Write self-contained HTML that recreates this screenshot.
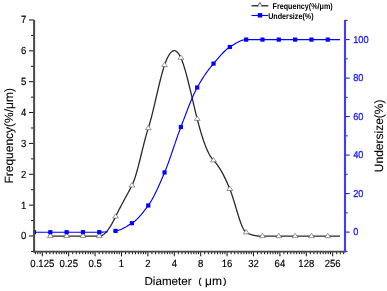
<!DOCTYPE html>
<html><head><meta charset="utf-8"><style>
html,body{margin:0;padding:0;background:#fff;width:387px;height:291px;overflow:hidden}
svg{display:block}
text{font-family:"Liberation Sans","Noto Sans CJK SC",sans-serif;text-rendering:geometricPrecision}
.tl{font-size:10.4px;fill:#000;stroke:#000;stroke-width:0.15px}
.tr{font-size:10px;fill:#1a1aff;stroke:#1a1aff;stroke-width:0.3px}
.tb{font-size:10.4px;fill:#000;stroke:#000;stroke-width:0.15px}
.tt{font-size:12px;fill:#000;stroke:#000;stroke-width:0.1px}
.tx{font-size:11.6px;fill:#000;stroke:#000;stroke-width:0.1px}
.lg{font-size:8.4px;fill:#000;font-weight:bold}
.pp{font-size:8.4px;stroke-width:0.35px}
</style></head><body>
<svg width="387" height="291" viewBox="0 0 387 291">
<defs><clipPath id="pa"><rect x="33.4" y="20.0" width="311.20000000000005" height="231.6"/></clipPath></defs>
<rect width="387" height="291" fill="#fff"/>
<g clip-path="url(#pa)">
<path d="M48.00,236.10 L48.50,236.10 L49.00,236.10 L49.50,236.10 L50.00,236.10 L50.50,236.10 L51.00,236.10 L51.50,236.10 L52.00,236.10 L52.50,236.10 L53.00,236.10 L53.50,236.10 L54.00,236.10 L54.50,236.10 L55.00,236.10 L55.50,236.10 L56.00,236.10 L56.50,236.10 L57.00,236.10 L57.50,236.10 L58.00,236.10 L58.50,236.10 L59.00,236.10 L59.50,236.10 L60.00,236.10 L60.50,236.10 L61.00,236.10 L61.50,236.10 L62.00,236.10 L62.50,236.10 L63.00,236.10 L63.50,236.10 L64.00,236.10 L64.50,236.10 L65.00,236.10 L65.50,236.10 L66.00,236.10 L66.50,236.10 L67.00,236.10 L67.50,236.10 L68.00,236.10 L68.50,236.10 L69.00,236.10 L69.50,236.10 L70.00,236.10 L70.50,236.10 L71.00,236.10 L71.50,236.10 L72.00,236.10 L72.50,236.10 L73.00,236.10 L73.50,236.10 L74.00,236.10 L74.50,236.10 L75.00,236.10 L75.50,236.10 L76.00,236.10 L76.50,236.10 L77.00,236.10 L77.50,236.10 L78.00,236.10 L78.50,236.10 L79.00,236.10 L79.50,236.10 L80.00,236.10 L80.50,236.10 L81.00,236.10 L81.50,236.10 L82.00,236.10 L82.50,236.10 L83.00,236.10 L83.50,236.10 L84.00,236.10 L84.50,236.10 L85.00,236.10 L85.50,236.10 L86.00,236.10 L86.50,236.10 L87.00,236.10 L87.50,236.10 L88.00,236.10 L88.50,236.10 L89.00,236.10 L89.50,236.10 L90.00,236.10 L90.50,236.10 L91.00,236.10 L91.50,236.10 L92.00,236.10 L92.50,236.10 L93.00,236.10 L93.50,236.10 L94.00,236.10 L94.50,236.10 L95.00,236.10 L95.50,236.10 L96.00,236.10 L96.50,236.10 L97.00,236.10 L97.50,236.10 L98.00,236.10 L98.50,236.10 L99.00,236.10 L99.50,236.10 L100.00,236.05 L100.50,235.96 L101.00,235.83 L101.50,235.66 L102.00,235.44 L102.50,235.18 L103.00,234.88 L103.50,234.54 L104.00,234.17 L104.50,233.75 L105.00,233.30 L105.50,232.81 L106.00,232.29 L106.50,231.73 L107.00,231.14 L107.50,230.51 L108.00,229.86 L108.50,229.17 L109.00,228.46 L109.50,227.71 L110.00,226.94 L110.50,226.13 L111.00,225.31 L111.50,224.45 L112.00,223.57 L112.50,222.67 L113.00,221.75 L113.50,220.80 L114.00,219.83 L114.50,218.84 L115.00,217.83 L115.50,216.81 L116.00,215.77 L116.50,214.75 L117.00,213.73 L117.50,212.73 L118.00,211.74 L118.50,210.75 L119.00,209.77 L119.50,208.80 L120.00,207.84 L120.50,206.89 L121.00,205.94 L121.50,204.99 L122.00,204.05 L122.50,203.12 L123.00,202.19 L123.50,201.26 L124.00,200.33 L124.50,199.41 L125.00,198.48 L125.50,197.56 L126.00,196.64 L126.50,195.72 L127.00,194.79 L127.50,193.86 L128.00,192.94 L128.50,192.00 L129.00,191.07 L129.50,190.13 L130.00,189.18 L130.50,188.23 L131.00,187.28 L131.50,186.31 L132.00,185.34 L132.50,184.30 L133.00,183.16 L133.50,181.91 L134.00,180.58 L134.50,179.16 L135.00,177.67 L135.50,176.09 L136.00,174.45 L136.50,172.75 L137.00,170.99 L137.50,169.18 L138.00,167.32 L138.50,165.42 L139.00,163.48 L139.50,161.52 L140.00,159.53 L140.50,157.53 L141.00,155.51 L141.50,153.48 L142.00,151.45 L142.50,149.43 L143.00,147.42 L143.50,145.42 L144.00,143.44 L144.50,141.49 L145.00,139.57 L145.50,137.69 L146.00,135.85 L146.50,134.06 L147.00,132.33 L147.50,130.66 L148.00,129.05 L148.50,127.49 L149.00,125.87 L149.50,124.19 L150.00,122.44 L150.50,120.62 L151.00,118.76 L151.50,116.84 L152.00,114.87 L152.50,112.87 L153.00,110.83 L153.50,108.76 L154.00,106.66 L154.50,104.54 L155.00,102.40 L155.50,100.26 L156.00,98.10 L156.50,95.95 L157.00,93.80 L157.50,91.65 L158.00,89.52 L158.50,87.41 L159.00,85.32 L159.50,83.26 L160.00,81.24 L160.50,79.25 L161.00,77.30 L161.50,75.40 L162.00,73.55 L162.50,71.76 L163.00,70.03 L163.50,68.37 L164.00,66.79 L164.50,65.28 L165.00,63.84 L165.50,62.48 L166.00,61.19 L166.50,59.97 L167.00,58.83 L167.50,57.76 L168.00,56.76 L168.50,55.84 L169.00,54.99 L169.50,54.22 L170.00,53.52 L170.50,52.90 L171.00,52.36 L171.50,51.89 L172.00,51.50 L172.50,51.19 L173.00,50.95 L173.50,50.80 L174.00,50.72 L174.50,50.72 L175.00,50.80 L175.50,50.97 L176.00,51.21 L176.50,51.53 L177.00,51.94 L177.50,52.43 L178.00,53.00 L178.50,53.65 L179.00,54.38 L179.50,55.20 L180.00,56.11 L180.50,57.09 L181.00,58.17 L181.50,59.33 L182.00,60.57 L182.50,61.90 L183.00,63.30 L183.50,64.78 L184.00,66.33 L184.50,67.94 L185.00,69.62 L185.50,71.35 L186.00,73.14 L186.50,74.97 L187.00,76.86 L187.50,78.78 L188.00,80.74 L188.50,82.74 L189.00,84.77 L189.50,86.82 L190.00,88.90 L190.50,90.99 L191.00,93.10 L191.50,95.22 L192.00,97.35 L192.50,99.48 L193.00,101.61 L193.50,103.73 L194.00,105.85 L194.50,107.95 L195.00,110.03 L195.50,112.09 L196.00,114.13 L196.50,116.14 L197.00,118.12 L197.50,120.06 L198.00,121.97 L198.50,123.84 L199.00,125.67 L199.50,127.47 L200.00,129.22 L200.50,130.94 L201.00,132.63 L201.50,134.27 L202.00,135.87 L202.50,137.43 L203.00,138.95 L203.50,140.43 L204.00,141.87 L204.50,143.26 L205.00,144.61 L205.50,145.92 L206.00,147.18 L206.50,148.40 L207.00,149.57 L207.50,150.69 L208.00,151.77 L208.50,152.80 L209.00,153.79 L209.50,154.72 L210.00,155.61 L210.50,156.44 L211.00,157.23 L211.50,157.96 L212.00,158.65 L212.50,159.28 L213.00,159.85 L213.50,160.38 L214.00,160.89 L214.50,161.42 L215.00,161.98 L215.50,162.56 L216.00,163.17 L216.50,163.81 L217.00,164.46 L217.50,165.14 L218.00,165.85 L218.50,166.58 L219.00,167.33 L219.50,168.10 L220.00,168.90 L220.50,169.72 L221.00,170.57 L221.50,171.43 L222.00,172.32 L222.50,173.23 L223.00,174.17 L223.50,175.12 L224.00,176.10 L224.50,177.09 L225.00,178.11 L225.50,179.15 L226.00,180.21 L226.50,181.29 L227.00,182.38 L227.50,183.50 L228.00,184.64 L228.50,185.80 L229.00,186.98 L229.50,188.18 L230.00,189.39 L230.50,190.67 L231.00,192.02 L231.50,193.44 L232.00,194.91 L232.50,196.43 L233.00,197.99 L233.50,199.59 L234.00,201.22 L234.50,202.87 L235.00,204.54 L235.50,206.22 L236.00,207.90 L236.50,209.58 L237.00,211.25 L237.50,212.91 L238.00,214.54 L238.50,216.15 L239.00,217.72 L239.50,219.25 L240.00,220.72 L240.50,222.15 L241.00,223.51 L241.50,224.81 L242.00,226.02 L242.50,227.16 L243.00,228.21 L243.50,229.17 L244.00,230.02 L244.50,230.77 L245.00,231.41 L245.50,231.92 L246.00,232.30 L246.50,232.59 L247.00,232.85 L247.50,233.10 L248.00,233.34 L248.50,233.56 L249.00,233.78 L249.50,233.98 L250.00,234.18 L250.50,234.36 L251.00,234.53 L251.50,234.69 L252.00,234.85 L252.50,234.99 L253.00,235.12 L253.50,235.25 L254.00,235.36 L254.50,235.47 L255.00,235.57 L255.50,235.66 L256.00,235.74 L256.50,235.81 L257.00,235.88 L257.50,235.94 L258.00,235.99 L258.50,236.04 L259.00,236.08 L259.50,236.11 L260.00,236.14 L260.50,236.16 L261.00,236.18 L261.50,236.19 L262.00,236.20 L262.50,236.20 L263.00,236.20 L263.50,236.20 L264.00,236.20 L264.50,236.20 L265.00,236.20 L265.50,236.20 L266.00,236.20 L266.50,236.20 L267.00,236.20 L267.50,236.20 L268.00,236.20 L268.50,236.20 L269.00,236.20 L269.50,236.20 L270.00,236.20 L270.50,236.20 L271.00,236.20 L271.50,236.20 L272.00,236.20 L272.50,236.20 L273.00,236.20 L273.50,236.20 L274.00,236.20 L274.50,236.20 L275.00,236.20 L275.50,236.20 L276.00,236.20 L276.50,236.20 L277.00,236.20 L277.50,236.20 L278.00,236.20 L278.50,236.20 L279.00,236.20 L279.50,236.20 L280.00,236.20 L280.50,236.20 L281.00,236.20 L281.50,236.20 L282.00,236.20 L282.50,236.20 L283.00,236.20 L283.50,236.20 L284.00,236.20 L284.50,236.20 L285.00,236.20 L285.50,236.20 L286.00,236.20 L286.50,236.20 L287.00,236.20 L287.50,236.20 L288.00,236.20 L288.50,236.20 L289.00,236.20 L289.50,236.20 L290.00,236.20 L290.50,236.20 L291.00,236.20 L291.50,236.20 L292.00,236.20 L292.50,236.20 L293.00,236.20 L293.50,236.20 L294.00,236.20 L294.50,236.20 L295.00,236.20 L295.50,236.20 L296.00,236.20 L296.50,236.20 L297.00,236.20 L297.50,236.20 L298.00,236.20 L298.50,236.20 L299.00,236.20 L299.50,236.20 L300.00,236.20 L300.50,236.20 L301.00,236.20 L301.50,236.20 L302.00,236.20 L302.50,236.20 L303.00,236.20 L303.50,236.20 L304.00,236.20 L304.50,236.20 L305.00,236.20 L305.50,236.20 L306.00,236.20 L306.50,236.20 L307.00,236.20 L307.50,236.20 L308.00,236.20 L308.50,236.20 L309.00,236.20 L309.50,236.20 L310.00,236.20 L310.50,236.20 L311.00,236.20 L311.50,236.20 L312.00,236.20 L312.50,236.20 L313.00,236.20 L313.50,236.20 L314.00,236.20 L314.50,236.20 L315.00,236.20 L315.50,236.20 L316.00,236.20 L316.50,236.20 L317.00,236.20 L317.50,236.20 L318.00,236.20 L318.50,236.20 L319.00,236.20 L319.50,236.20 L320.00,236.20 L320.50,236.20 L321.00,236.20 L321.50,236.20 L322.00,236.20 L322.50,236.20 L323.00,236.20 L323.50,236.20 L324.00,236.20 L324.50,236.20 L325.00,236.20 L325.50,236.20 L326.00,236.20 L326.50,236.20 L327.00,236.20 L327.50,236.20 L328.00,236.20 L328.50,236.20 L329.00,236.20 L329.50,236.20 L330.00,236.20 L330.50,236.20 L331.00,236.20 L331.50,236.20 L332.00,236.20 L332.50,236.20 L333.00,236.20 L333.50,236.20 L334.00,236.20 L334.50,236.20 L335.00,236.20 L335.50,236.20 L336.00,236.20 L336.50,236.20 L337.00,236.20 L337.50,236.20 L338.00,236.20 L338.50,236.20 L339.00,236.20 L339.50,236.20 L340.00,236.20" fill="none" stroke="#2a2a2a" stroke-width="1.3"/>
<path d="M50.32,233.17 L53.22,237.57 L47.42,237.57 Z" fill="#fff" stroke="#555" stroke-width="0.6"/><path d="M66.64,233.17 L69.54,237.57 L63.74,237.57 Z" fill="#fff" stroke="#555" stroke-width="0.6"/><path d="M82.96,233.17 L85.86,237.57 L80.06,237.57 Z" fill="#fff" stroke="#555" stroke-width="0.6"/><path d="M99.28,233.17 L102.18,237.57 L96.38,237.57 Z" fill="#fff" stroke="#555" stroke-width="0.6"/><path d="M115.60,213.67 L118.50,218.07 L112.70,218.07 Z" fill="#fff" stroke="#555" stroke-width="0.6"/><path d="M131.92,182.57 L134.82,186.97 L129.02,186.97 Z" fill="#fff" stroke="#555" stroke-width="0.6"/><path d="M148.24,125.37 L151.14,129.77 L145.34,129.77 Z" fill="#fff" stroke="#555" stroke-width="0.6"/><path d="M164.56,62.17 L167.46,66.57 L161.66,66.57 Z" fill="#fff" stroke="#555" stroke-width="0.6"/><path d="M180.88,54.97 L183.78,59.37 L177.98,59.37 Z" fill="#fff" stroke="#555" stroke-width="0.6"/><path d="M197.20,115.97 L200.10,120.37 L194.30,120.37 Z" fill="#fff" stroke="#555" stroke-width="0.6"/><path d="M213.52,157.47 L216.42,161.87 L210.62,161.87 Z" fill="#fff" stroke="#555" stroke-width="0.6"/><path d="M229.84,186.07 L232.74,190.47 L226.94,190.47 Z" fill="#fff" stroke="#555" stroke-width="0.6"/><path d="M246.16,229.47 L249.06,233.87 L243.26,233.87 Z" fill="#fff" stroke="#555" stroke-width="0.6"/><path d="M262.48,233.27 L265.38,237.67 L259.58,237.67 Z" fill="#fff" stroke="#555" stroke-width="0.6"/><path d="M278.80,233.27 L281.70,237.67 L275.90,237.67 Z" fill="#fff" stroke="#555" stroke-width="0.6"/><path d="M295.12,233.27 L298.02,237.67 L292.22,237.67 Z" fill="#fff" stroke="#555" stroke-width="0.6"/><path d="M311.44,233.27 L314.34,237.67 L308.54,237.67 Z" fill="#fff" stroke="#555" stroke-width="0.6"/><path d="M327.76,233.27 L330.66,237.67 L324.86,237.67 Z" fill="#fff" stroke="#555" stroke-width="0.6"/>
<path d="M33.00,232.20 L33.50,232.20 L34.00,232.20 L34.50,232.20 L35.00,232.20 L35.50,232.20 L36.00,232.20 L36.50,232.20 L37.00,232.20 L37.50,232.20 L38.00,232.20 L38.50,232.20 L39.00,232.20 L39.50,232.20 L40.00,232.20 L40.50,232.20 L41.00,232.20 L41.50,232.20 L42.00,232.20 L42.50,232.20 L43.00,232.20 L43.50,232.20 L44.00,232.20 L44.50,232.20 L45.00,232.20 L45.50,232.20 L46.00,232.20 L46.50,232.20 L47.00,232.20 L47.50,232.20 L48.00,232.20 L48.50,232.20 L49.00,232.20 L49.50,232.20 L50.00,232.20 L50.50,232.20 L51.00,232.20 L51.50,232.20 L52.00,232.20 L52.50,232.20 L53.00,232.20 L53.50,232.20 L54.00,232.20 L54.50,232.20 L55.00,232.20 L55.50,232.20 L56.00,232.20 L56.50,232.20 L57.00,232.20 L57.50,232.20 L58.00,232.20 L58.50,232.20 L59.00,232.20 L59.50,232.20 L60.00,232.20 L60.50,232.20 L61.00,232.20 L61.50,232.20 L62.00,232.20 L62.50,232.20 L63.00,232.20 L63.50,232.20 L64.00,232.20 L64.50,232.20 L65.00,232.20 L65.50,232.20 L66.00,232.20 L66.50,232.20 L67.00,232.20 L67.50,232.20 L68.00,232.20 L68.50,232.20 L69.00,232.20 L69.50,232.20 L70.00,232.20 L70.50,232.20 L71.00,232.20 L71.50,232.20 L72.00,232.20 L72.50,232.20 L73.00,232.20 L73.50,232.20 L74.00,232.20 L74.50,232.20 L75.00,232.20 L75.50,232.20 L76.00,232.20 L76.50,232.20 L77.00,232.20 L77.50,232.20 L78.00,232.20 L78.50,232.20 L79.00,232.20 L79.50,232.20 L80.00,232.20 L80.50,232.20 L81.00,232.20 L81.50,232.20 L82.00,232.20 L82.50,232.20 L83.00,232.20 L83.50,232.20 L84.00,232.20 L84.50,232.20 L85.00,232.20 L85.50,232.20 L86.00,232.20 L86.50,232.20 L87.00,232.20 L87.50,232.20 L88.00,232.20 L88.50,232.20 L89.00,232.20 L89.50,232.20 L90.00,232.20 L90.50,232.20 L91.00,232.20 L91.50,232.20 L92.00,232.20 L92.50,232.20 L93.00,232.20 L93.50,232.20 L94.00,232.20 L94.50,232.20 L95.00,232.20 L95.50,232.20 L96.00,232.20 L96.50,232.20 L97.00,232.20 L97.50,232.20 L98.00,232.20 L98.50,232.20 L99.00,232.20 L99.50,232.20 L100.00,232.20 L100.50,232.19 L101.00,232.18 L101.50,232.16 L102.00,232.15 L102.50,232.12 L103.00,232.10 L103.50,232.07 L104.00,232.04 L104.50,232.01 L105.00,231.98 L105.50,231.94 L106.00,231.90 L106.50,231.86 L107.00,231.82 L107.50,231.77 L107.70,231.75" fill="none" stroke="#0000ff" stroke-width="1.15"/>
<path d="M113.30,231.16 L113.80,231.10 L114.30,231.05 L114.80,230.99 L115.30,230.93 L115.80,230.88 L116.30,230.81 L116.80,230.72 L117.30,230.61 L117.80,230.49 L118.30,230.35 L118.80,230.20 L119.30,230.04 L119.80,229.86 L120.30,229.67 L120.80,229.46 L121.30,229.25 L121.80,229.02 L122.30,228.79 L122.80,228.54 L123.30,228.29 L123.80,228.03 L124.30,227.76 L124.80,227.48 L125.30,227.20 L125.80,226.92 L126.30,226.62 L126.80,226.33 L127.30,226.03 L127.80,225.72 L128.30,225.42 L128.80,225.11 L129.30,224.80 L129.80,224.49 L130.30,224.19 L130.80,223.88 L131.30,223.58 L131.80,223.27 L132.30,222.97 L132.80,222.64 L133.30,222.29 L133.80,221.93 L134.30,221.54 L134.80,221.14 L135.30,220.72 L135.80,220.28 L136.30,219.83 L136.80,219.36 L137.30,218.87 L137.80,218.37 L138.30,217.86 L138.80,217.33 L139.30,216.79 L139.80,216.23 L140.30,215.67 L140.80,215.09 L141.30,214.50 L141.80,213.90 L142.30,213.29 L142.80,212.68 L143.30,212.05 L143.80,211.41 L144.30,210.77 L144.80,210.12 L145.30,209.46 L145.80,208.80 L146.30,208.13 L146.80,207.46 L147.30,206.78 L147.80,206.10 L148.30,205.42 L148.80,204.71 L149.30,203.98 L149.80,203.22 L150.30,202.44 L150.80,201.63 L151.30,200.79 L151.80,199.93 L152.30,199.05 L152.80,198.14 L153.30,197.22 L153.80,196.27 L154.30,195.30 L154.80,194.31 L155.30,193.31 L155.80,192.29 L156.30,191.25 L156.80,190.20 L157.30,189.13 L157.80,188.05 L158.30,186.95 L158.80,185.85 L159.30,184.73 L159.80,183.60 L160.30,182.46 L160.80,181.32 L161.30,180.16 L161.80,179.00 L162.30,177.83 L162.80,176.66 L163.30,175.48 L163.80,174.30 L164.30,173.12 L164.80,171.93 L165.30,170.71 L165.80,169.47 L166.30,168.20 L166.80,166.90 L167.30,165.58 L167.80,164.24 L168.30,162.87 L168.80,161.49 L169.30,160.09 L169.80,158.68 L170.30,157.25 L170.80,155.81 L171.30,154.36 L171.80,152.91 L172.30,151.44 L172.80,149.97 L173.30,148.50 L173.80,147.03 L174.30,145.55 L174.80,144.08 L175.30,142.62 L175.80,141.15 L176.30,139.70 L176.80,138.25 L177.30,136.82 L177.80,135.39 L178.30,133.98 L178.80,132.59 L179.30,131.22 L179.80,129.86 L180.30,128.52 L180.80,127.21 L181.30,125.91 L181.80,124.60 L182.30,123.29 L182.80,121.97 L183.30,120.65 L183.80,119.33 L184.30,118.00 L184.80,116.68 L185.30,115.36 L185.80,114.04 L186.30,112.72 L186.80,111.42 L187.30,110.11 L187.80,108.82 L188.30,107.53 L188.80,106.26 L189.30,104.99 L189.80,103.74 L190.30,102.50 L190.80,101.28 L191.30,100.07 L191.80,98.89 L192.30,97.72 L192.80,96.57 L193.30,95.44 L193.80,94.33 L194.30,93.25 L194.80,92.19 L195.30,91.16 L195.80,90.16 L196.30,89.18 L196.80,88.23 L197.30,87.32 L197.80,86.42 L198.30,85.54 L198.80,84.66 L199.30,83.80 L199.80,82.95 L200.30,82.11 L200.80,81.28 L201.30,80.46 L201.80,79.65 L202.30,78.86 L202.80,78.07 L203.30,77.30 L203.80,76.53 L204.30,75.78 L204.80,75.03 L205.30,74.30 L205.80,73.58 L206.30,72.86 L206.80,72.16 L207.30,71.47 L207.80,70.78 L208.30,70.11 L208.80,69.44 L209.30,68.78 L209.80,68.14 L210.30,67.50 L210.80,66.87 L211.30,66.25 L211.80,65.64 L212.30,65.03 L212.80,64.44 L213.30,63.86 L213.80,63.28 L214.30,62.69 L214.80,62.11 L215.30,61.52 L215.80,60.94 L216.30,60.35 L216.80,59.76 L217.30,59.18 L217.80,58.59 L218.30,58.01 L218.80,57.43 L219.30,56.86 L219.80,56.29 L220.30,55.72 L220.80,55.16 L221.30,54.61 L221.80,54.07 L222.30,53.53 L222.80,53.01 L223.30,52.49 L223.80,51.99 L224.30,51.49 L224.80,51.01 L225.30,50.54 L225.80,50.09 L226.30,49.65 L226.80,49.22 L227.30,48.81 L227.80,48.42 L228.30,48.04 L228.80,47.68 L229.30,47.34 L229.80,47.02 L230.30,46.72 L230.80,46.40 L231.30,46.09 L231.80,45.77 L232.30,45.45 L232.80,45.14 L233.30,44.82 L233.80,44.51 L234.30,44.19 L234.80,43.89 L235.30,43.58 L235.80,43.28 L236.30,42.99 L236.80,42.70 L237.30,42.42 L237.80,42.15 L238.30,41.89 L238.80,41.64 L239.30,41.39 L239.80,41.16 L240.30,40.95 L240.80,40.74 L241.30,40.55 L241.80,40.38 L242.30,40.22 L242.80,40.07 L243.30,39.95 L243.80,39.84 L244.30,39.75 L244.80,39.68 L245.30,39.63 L245.80,39.61 L246.30,39.60 L246.80,39.60 L247.30,39.60 L247.80,39.60 L248.30,39.60 L248.80,39.60 L249.30,39.60 L249.80,39.60 L250.30,39.60 L250.80,39.60 L251.30,39.60 L251.80,39.60 L252.30,39.60 L252.80,39.60 L253.30,39.60 L253.80,39.60 L254.30,39.60 L254.80,39.60 L255.30,39.60 L255.80,39.60 L256.30,39.60 L256.80,39.60 L257.30,39.60 L257.80,39.60 L258.30,39.60 L258.80,39.60 L259.30,39.60 L259.80,39.60 L260.30,39.60 L260.80,39.60 L261.30,39.60 L261.80,39.60 L262.30,39.60 L262.80,39.60 L263.30,39.60 L263.80,39.60 L264.30,39.60 L264.80,39.60 L265.30,39.60 L265.80,39.60 L266.30,39.60 L266.80,39.60 L267.30,39.60 L267.80,39.60 L268.30,39.60 L268.80,39.60 L269.30,39.60 L269.80,39.60 L270.30,39.60 L270.80,39.60 L271.30,39.60 L271.80,39.60 L272.30,39.60 L272.80,39.60 L273.30,39.60 L273.80,39.60 L274.30,39.60 L274.80,39.60 L275.30,39.60 L275.80,39.60 L276.30,39.60 L276.80,39.60 L277.30,39.60 L277.80,39.60 L278.30,39.60 L278.80,39.60 L279.30,39.60 L279.80,39.60 L280.30,39.60 L280.80,39.60 L281.30,39.60 L281.80,39.60 L282.30,39.60 L282.80,39.60 L283.30,39.60 L283.80,39.60 L284.30,39.60 L284.80,39.60 L285.30,39.60 L285.80,39.60 L286.30,39.60 L286.80,39.60 L287.30,39.60 L287.80,39.60 L288.30,39.60 L288.80,39.60 L289.30,39.60 L289.80,39.60 L290.30,39.60 L290.80,39.60 L291.30,39.60 L291.80,39.60 L292.30,39.60 L292.80,39.60 L293.30,39.60 L293.80,39.60 L294.30,39.60 L294.80,39.60 L295.30,39.60 L295.80,39.60 L296.30,39.60 L296.80,39.60 L297.30,39.60 L297.80,39.60 L298.30,39.60 L298.80,39.60 L299.30,39.60 L299.80,39.60 L300.30,39.60 L300.80,39.60 L301.30,39.60 L301.80,39.60 L302.30,39.60 L302.80,39.60 L303.30,39.60 L303.80,39.60 L304.30,39.60 L304.80,39.60 L305.30,39.60 L305.80,39.60 L306.30,39.60 L306.80,39.60 L307.30,39.60 L307.80,39.60 L308.30,39.60 L308.80,39.60 L309.30,39.60 L309.80,39.60 L310.30,39.60 L310.80,39.60 L311.30,39.60 L311.80,39.60 L312.30,39.60 L312.80,39.60 L313.30,39.60 L313.80,39.60 L314.30,39.60 L314.80,39.60 L315.30,39.60 L315.80,39.60 L316.30,39.60 L316.80,39.60 L317.30,39.60 L317.80,39.60 L318.30,39.60 L318.80,39.60 L319.30,39.60 L319.80,39.60 L320.30,39.60 L320.80,39.60 L321.30,39.60 L321.80,39.60 L322.30,39.60 L322.80,39.60 L323.30,39.60 L323.80,39.60 L324.30,39.60 L324.80,39.60 L325.30,39.60 L325.80,39.60 L326.30,39.60 L326.80,39.60 L327.30,39.60 L327.80,39.60 L328.30,39.60 L328.80,39.60 L329.30,39.60 L329.80,39.60 L330.30,39.60 L330.80,39.60 L331.30,39.60 L331.80,39.60 L332.30,39.60 L332.80,39.60 L333.30,39.60 L333.80,39.60 L334.30,39.60 L334.80,39.60 L335.30,39.60 L335.80,39.60 L336.30,39.60 L336.80,39.60 L337.30,39.60 L337.80,39.60 L338.30,39.60 L338.80,39.60 L339.30,39.60 L339.80,39.60 L340.00,39.60" fill="none" stroke="#0000ff" stroke-width="1.15"/>
<rect x="31.90" y="230.10" width="4.2" height="4.2" fill="#0000ff"/><rect x="48.22" y="230.10" width="4.2" height="4.2" fill="#0000ff"/><rect x="64.54" y="230.10" width="4.2" height="4.2" fill="#0000ff"/><rect x="80.86" y="230.10" width="4.2" height="4.2" fill="#0000ff"/><rect x="97.18" y="230.10" width="4.2" height="4.2" fill="#0000ff"/><rect x="113.50" y="228.80" width="4.2" height="4.2" fill="#0000ff"/><rect x="129.82" y="221.10" width="4.2" height="4.2" fill="#0000ff"/><rect x="146.14" y="203.40" width="4.2" height="4.2" fill="#0000ff"/><rect x="162.46" y="170.40" width="4.2" height="4.2" fill="#0000ff"/><rect x="178.78" y="124.90" width="4.2" height="4.2" fill="#0000ff"/><rect x="195.10" y="85.40" width="4.2" height="4.2" fill="#0000ff"/><rect x="211.42" y="61.50" width="4.2" height="4.2" fill="#0000ff"/><rect x="227.74" y="44.90" width="4.2" height="4.2" fill="#0000ff"/><rect x="244.06" y="37.50" width="4.2" height="4.2" fill="#0000ff"/><rect x="260.38" y="37.50" width="4.2" height="4.2" fill="#0000ff"/><rect x="276.70" y="37.50" width="4.2" height="4.2" fill="#0000ff"/><rect x="293.02" y="37.50" width="4.2" height="4.2" fill="#0000ff"/><rect x="309.34" y="37.50" width="4.2" height="4.2" fill="#0000ff"/><rect x="325.66" y="37.50" width="4.2" height="4.2" fill="#0000ff"/>
</g>
<line x1="35.36" y1="251.6" x2="35.36" y2="254.2" stroke="#111" stroke-width="1"/><line x1="37.81" y1="251.6" x2="37.81" y2="254.2" stroke="#111" stroke-width="1"/><line x1="40.12" y1="251.6" x2="40.12" y2="254.2" stroke="#111" stroke-width="1"/><line x1="42.30" y1="251.6" x2="42.30" y2="256.3" stroke="#111" stroke-width="1"/><line x1="46.31" y1="251.6" x2="46.31" y2="254.2" stroke="#111" stroke-width="1"/><line x1="49.94" y1="251.6" x2="49.94" y2="254.2" stroke="#111" stroke-width="1"/><line x1="53.26" y1="251.6" x2="53.26" y2="254.2" stroke="#111" stroke-width="1"/><line x1="56.31" y1="251.6" x2="56.31" y2="254.2" stroke="#111" stroke-width="1"/><line x1="59.13" y1="251.6" x2="59.13" y2="254.2" stroke="#111" stroke-width="1"/><line x1="61.76" y1="251.6" x2="61.76" y2="254.2" stroke="#111" stroke-width="1"/><line x1="64.21" y1="251.6" x2="64.21" y2="254.2" stroke="#111" stroke-width="1"/><line x1="66.52" y1="251.6" x2="66.52" y2="254.2" stroke="#111" stroke-width="1"/><line x1="68.70" y1="251.6" x2="68.70" y2="256.3" stroke="#111" stroke-width="1"/><line x1="72.71" y1="251.6" x2="72.71" y2="254.2" stroke="#111" stroke-width="1"/><line x1="76.34" y1="251.6" x2="76.34" y2="254.2" stroke="#111" stroke-width="1"/><line x1="79.66" y1="251.6" x2="79.66" y2="254.2" stroke="#111" stroke-width="1"/><line x1="82.71" y1="251.6" x2="82.71" y2="254.2" stroke="#111" stroke-width="1"/><line x1="85.53" y1="251.6" x2="85.53" y2="254.2" stroke="#111" stroke-width="1"/><line x1="88.16" y1="251.6" x2="88.16" y2="254.2" stroke="#111" stroke-width="1"/><line x1="90.61" y1="251.6" x2="90.61" y2="254.2" stroke="#111" stroke-width="1"/><line x1="92.92" y1="251.6" x2="92.92" y2="254.2" stroke="#111" stroke-width="1"/><line x1="95.10" y1="251.6" x2="95.10" y2="256.3" stroke="#111" stroke-width="1"/><line x1="99.11" y1="251.6" x2="99.11" y2="254.2" stroke="#111" stroke-width="1"/><line x1="102.74" y1="251.6" x2="102.74" y2="254.2" stroke="#111" stroke-width="1"/><line x1="106.06" y1="251.6" x2="106.06" y2="254.2" stroke="#111" stroke-width="1"/><line x1="109.11" y1="251.6" x2="109.11" y2="254.2" stroke="#111" stroke-width="1"/><line x1="111.93" y1="251.6" x2="111.93" y2="254.2" stroke="#111" stroke-width="1"/><line x1="114.56" y1="251.6" x2="114.56" y2="254.2" stroke="#111" stroke-width="1"/><line x1="117.01" y1="251.6" x2="117.01" y2="254.2" stroke="#111" stroke-width="1"/><line x1="119.32" y1="251.6" x2="119.32" y2="254.2" stroke="#111" stroke-width="1"/><line x1="121.50" y1="251.6" x2="121.50" y2="256.3" stroke="#111" stroke-width="1"/><line x1="125.51" y1="251.6" x2="125.51" y2="254.2" stroke="#111" stroke-width="1"/><line x1="129.14" y1="251.6" x2="129.14" y2="254.2" stroke="#111" stroke-width="1"/><line x1="132.46" y1="251.6" x2="132.46" y2="254.2" stroke="#111" stroke-width="1"/><line x1="135.51" y1="251.6" x2="135.51" y2="254.2" stroke="#111" stroke-width="1"/><line x1="138.33" y1="251.6" x2="138.33" y2="254.2" stroke="#111" stroke-width="1"/><line x1="140.96" y1="251.6" x2="140.96" y2="254.2" stroke="#111" stroke-width="1"/><line x1="143.41" y1="251.6" x2="143.41" y2="254.2" stroke="#111" stroke-width="1"/><line x1="145.72" y1="251.6" x2="145.72" y2="254.2" stroke="#111" stroke-width="1"/><line x1="147.90" y1="251.6" x2="147.90" y2="256.3" stroke="#111" stroke-width="1"/><line x1="151.91" y1="251.6" x2="151.91" y2="254.2" stroke="#111" stroke-width="1"/><line x1="155.54" y1="251.6" x2="155.54" y2="254.2" stroke="#111" stroke-width="1"/><line x1="158.86" y1="251.6" x2="158.86" y2="254.2" stroke="#111" stroke-width="1"/><line x1="161.91" y1="251.6" x2="161.91" y2="254.2" stroke="#111" stroke-width="1"/><line x1="164.73" y1="251.6" x2="164.73" y2="254.2" stroke="#111" stroke-width="1"/><line x1="167.36" y1="251.6" x2="167.36" y2="254.2" stroke="#111" stroke-width="1"/><line x1="169.81" y1="251.6" x2="169.81" y2="254.2" stroke="#111" stroke-width="1"/><line x1="172.12" y1="251.6" x2="172.12" y2="254.2" stroke="#111" stroke-width="1"/><line x1="174.30" y1="251.6" x2="174.30" y2="256.3" stroke="#111" stroke-width="1"/><line x1="178.31" y1="251.6" x2="178.31" y2="254.2" stroke="#111" stroke-width="1"/><line x1="181.94" y1="251.6" x2="181.94" y2="254.2" stroke="#111" stroke-width="1"/><line x1="185.26" y1="251.6" x2="185.26" y2="254.2" stroke="#111" stroke-width="1"/><line x1="188.31" y1="251.6" x2="188.31" y2="254.2" stroke="#111" stroke-width="1"/><line x1="191.13" y1="251.6" x2="191.13" y2="254.2" stroke="#111" stroke-width="1"/><line x1="193.76" y1="251.6" x2="193.76" y2="254.2" stroke="#111" stroke-width="1"/><line x1="196.21" y1="251.6" x2="196.21" y2="254.2" stroke="#111" stroke-width="1"/><line x1="198.52" y1="251.6" x2="198.52" y2="254.2" stroke="#111" stroke-width="1"/><line x1="200.70" y1="251.6" x2="200.70" y2="256.3" stroke="#111" stroke-width="1"/><line x1="204.71" y1="251.6" x2="204.71" y2="254.2" stroke="#111" stroke-width="1"/><line x1="208.34" y1="251.6" x2="208.34" y2="254.2" stroke="#111" stroke-width="1"/><line x1="211.66" y1="251.6" x2="211.66" y2="254.2" stroke="#111" stroke-width="1"/><line x1="214.71" y1="251.6" x2="214.71" y2="254.2" stroke="#111" stroke-width="1"/><line x1="217.53" y1="251.6" x2="217.53" y2="254.2" stroke="#111" stroke-width="1"/><line x1="220.16" y1="251.6" x2="220.16" y2="254.2" stroke="#111" stroke-width="1"/><line x1="222.61" y1="251.6" x2="222.61" y2="254.2" stroke="#111" stroke-width="1"/><line x1="224.92" y1="251.6" x2="224.92" y2="254.2" stroke="#111" stroke-width="1"/><line x1="227.10" y1="251.6" x2="227.10" y2="256.3" stroke="#111" stroke-width="1"/><line x1="231.11" y1="251.6" x2="231.11" y2="254.2" stroke="#111" stroke-width="1"/><line x1="234.74" y1="251.6" x2="234.74" y2="254.2" stroke="#111" stroke-width="1"/><line x1="238.06" y1="251.6" x2="238.06" y2="254.2" stroke="#111" stroke-width="1"/><line x1="241.11" y1="251.6" x2="241.11" y2="254.2" stroke="#111" stroke-width="1"/><line x1="243.93" y1="251.6" x2="243.93" y2="254.2" stroke="#111" stroke-width="1"/><line x1="246.56" y1="251.6" x2="246.56" y2="254.2" stroke="#111" stroke-width="1"/><line x1="249.01" y1="251.6" x2="249.01" y2="254.2" stroke="#111" stroke-width="1"/><line x1="251.32" y1="251.6" x2="251.32" y2="254.2" stroke="#111" stroke-width="1"/><line x1="253.50" y1="251.6" x2="253.50" y2="256.3" stroke="#111" stroke-width="1"/><line x1="257.51" y1="251.6" x2="257.51" y2="254.2" stroke="#111" stroke-width="1"/><line x1="261.14" y1="251.6" x2="261.14" y2="254.2" stroke="#111" stroke-width="1"/><line x1="264.46" y1="251.6" x2="264.46" y2="254.2" stroke="#111" stroke-width="1"/><line x1="267.51" y1="251.6" x2="267.51" y2="254.2" stroke="#111" stroke-width="1"/><line x1="270.33" y1="251.6" x2="270.33" y2="254.2" stroke="#111" stroke-width="1"/><line x1="272.96" y1="251.6" x2="272.96" y2="254.2" stroke="#111" stroke-width="1"/><line x1="275.41" y1="251.6" x2="275.41" y2="254.2" stroke="#111" stroke-width="1"/><line x1="277.72" y1="251.6" x2="277.72" y2="254.2" stroke="#111" stroke-width="1"/><line x1="279.90" y1="251.6" x2="279.90" y2="256.3" stroke="#111" stroke-width="1"/><line x1="283.91" y1="251.6" x2="283.91" y2="254.2" stroke="#111" stroke-width="1"/><line x1="287.54" y1="251.6" x2="287.54" y2="254.2" stroke="#111" stroke-width="1"/><line x1="290.86" y1="251.6" x2="290.86" y2="254.2" stroke="#111" stroke-width="1"/><line x1="293.91" y1="251.6" x2="293.91" y2="254.2" stroke="#111" stroke-width="1"/><line x1="296.73" y1="251.6" x2="296.73" y2="254.2" stroke="#111" stroke-width="1"/><line x1="299.36" y1="251.6" x2="299.36" y2="254.2" stroke="#111" stroke-width="1"/><line x1="301.81" y1="251.6" x2="301.81" y2="254.2" stroke="#111" stroke-width="1"/><line x1="304.12" y1="251.6" x2="304.12" y2="254.2" stroke="#111" stroke-width="1"/><line x1="306.30" y1="251.6" x2="306.30" y2="256.3" stroke="#111" stroke-width="1"/><line x1="310.31" y1="251.6" x2="310.31" y2="254.2" stroke="#111" stroke-width="1"/><line x1="313.94" y1="251.6" x2="313.94" y2="254.2" stroke="#111" stroke-width="1"/><line x1="317.26" y1="251.6" x2="317.26" y2="254.2" stroke="#111" stroke-width="1"/><line x1="320.31" y1="251.6" x2="320.31" y2="254.2" stroke="#111" stroke-width="1"/><line x1="323.13" y1="251.6" x2="323.13" y2="254.2" stroke="#111" stroke-width="1"/><line x1="325.76" y1="251.6" x2="325.76" y2="254.2" stroke="#111" stroke-width="1"/><line x1="328.21" y1="251.6" x2="328.21" y2="254.2" stroke="#111" stroke-width="1"/><line x1="330.52" y1="251.6" x2="330.52" y2="254.2" stroke="#111" stroke-width="1"/><line x1="332.70" y1="251.6" x2="332.70" y2="256.3" stroke="#111" stroke-width="1"/><line x1="336.71" y1="251.6" x2="336.71" y2="254.2" stroke="#111" stroke-width="1"/><line x1="340.34" y1="251.6" x2="340.34" y2="254.2" stroke="#111" stroke-width="1"/><line x1="343.66" y1="251.6" x2="343.66" y2="254.2" stroke="#111" stroke-width="1"/><line x1="29" y1="236.00" x2="34.0" y2="236.00" stroke="#111" stroke-width="1"/><line x1="29" y1="205.14" x2="34.0" y2="205.14" stroke="#111" stroke-width="1"/><line x1="29" y1="174.28" x2="34.0" y2="174.28" stroke="#111" stroke-width="1"/><line x1="29" y1="143.42" x2="34.0" y2="143.42" stroke="#111" stroke-width="1"/><line x1="29" y1="112.56" x2="34.0" y2="112.56" stroke="#111" stroke-width="1"/><line x1="29" y1="81.70" x2="34.0" y2="81.70" stroke="#111" stroke-width="1"/><line x1="29" y1="50.84" x2="34.0" y2="50.84" stroke="#111" stroke-width="1"/><line x1="29" y1="19.98" x2="34.0" y2="19.98" stroke="#111" stroke-width="1"/><line x1="31" y1="251.43" x2="34.0" y2="251.43" stroke="#111" stroke-width="1"/><line x1="31" y1="220.57" x2="34.0" y2="220.57" stroke="#111" stroke-width="1"/><line x1="31" y1="189.71" x2="34.0" y2="189.71" stroke="#111" stroke-width="1"/><line x1="31" y1="158.85" x2="34.0" y2="158.85" stroke="#111" stroke-width="1"/><line x1="31" y1="127.99" x2="34.0" y2="127.99" stroke="#111" stroke-width="1"/><line x1="31" y1="97.13" x2="34.0" y2="97.13" stroke="#111" stroke-width="1"/><line x1="31" y1="66.27" x2="34.0" y2="66.27" stroke="#111" stroke-width="1"/><line x1="31" y1="35.41" x2="34.0" y2="35.41" stroke="#111" stroke-width="1"/><line x1="344.6" y1="232.10" x2="349.6" y2="232.10" stroke="#0000ff" stroke-width="1"/><line x1="344.6" y1="193.60" x2="349.6" y2="193.60" stroke="#0000ff" stroke-width="1"/><line x1="344.6" y1="155.10" x2="349.6" y2="155.10" stroke="#0000ff" stroke-width="1"/><line x1="344.6" y1="116.60" x2="349.6" y2="116.60" stroke="#0000ff" stroke-width="1"/><line x1="344.6" y1="78.10" x2="349.6" y2="78.10" stroke="#0000ff" stroke-width="1"/><line x1="344.6" y1="39.60" x2="349.6" y2="39.60" stroke="#0000ff" stroke-width="1"/><line x1="344.6" y1="251.35" x2="347.6" y2="251.35" stroke="#0000ff" stroke-width="1"/><line x1="344.6" y1="212.85" x2="347.6" y2="212.85" stroke="#0000ff" stroke-width="1"/><line x1="344.6" y1="174.35" x2="347.6" y2="174.35" stroke="#0000ff" stroke-width="1"/><line x1="344.6" y1="135.85" x2="347.6" y2="135.85" stroke="#0000ff" stroke-width="1"/><line x1="344.6" y1="97.35" x2="347.6" y2="97.35" stroke="#0000ff" stroke-width="1"/><line x1="344.6" y1="58.85" x2="347.6" y2="58.85" stroke="#0000ff" stroke-width="1"/><line x1="344.6" y1="20.35" x2="347.6" y2="20.35" stroke="#0000ff" stroke-width="1"/>
<line x1="34.1" y1="20.0" x2="34.1" y2="252.5" stroke="#484848" stroke-width="2.0"/>
<line x1="33.1" y1="251.6" x2="344.6" y2="251.6" stroke="#484848" stroke-width="1.8"/>
<line x1="345.0" y1="20.0" x2="345.0" y2="252.5" stroke="#3c3cff" stroke-width="2.1"/>
<text transform="translate(26.4,239.40) scale(0.92,1)" text-anchor="end" class="tl">0</text><text transform="translate(26.4,208.54) scale(0.92,1)" text-anchor="end" class="tl">1</text><text transform="translate(26.4,177.68) scale(0.92,1)" text-anchor="end" class="tl">2</text><text transform="translate(26.4,146.82) scale(0.92,1)" text-anchor="end" class="tl">3</text><text transform="translate(26.4,115.96) scale(0.92,1)" text-anchor="end" class="tl">4</text><text transform="translate(26.4,85.10) scale(0.92,1)" text-anchor="end" class="tl">5</text><text transform="translate(26.4,54.24) scale(0.92,1)" text-anchor="end" class="tl">6</text><text transform="translate(26.4,23.38) scale(0.92,1)" text-anchor="end" class="tl">7</text><text transform="translate(353.2,235.10) scale(0.92,1)" class="tr">0</text><text transform="translate(353.2,196.60) scale(0.92,1)" class="tr">20</text><text transform="translate(353.2,158.10) scale(0.92,1)" class="tr">40</text><text transform="translate(353.2,119.60) scale(0.92,1)" class="tr">60</text><text transform="translate(353.2,81.10) scale(0.92,1)" class="tr">80</text><text transform="translate(353.2,42.60) scale(0.92,1)" class="tr">100</text><text transform="translate(42.30,266.7) scale(0.92,1)" text-anchor="middle" class="tb">0.125</text><text transform="translate(68.70,266.7) scale(0.92,1)" text-anchor="middle" class="tb">0.25</text><text transform="translate(95.10,266.7) scale(0.92,1)" text-anchor="middle" class="tb">0.5</text><text transform="translate(121.50,266.7) scale(0.92,1)" text-anchor="middle" class="tb">1</text><text transform="translate(147.90,266.7) scale(0.92,1)" text-anchor="middle" class="tb">2</text><text transform="translate(174.30,266.7) scale(0.92,1)" text-anchor="middle" class="tb">4</text><text transform="translate(200.70,266.7) scale(0.92,1)" text-anchor="middle" class="tb">8</text><text transform="translate(227.10,266.7) scale(0.92,1)" text-anchor="middle" class="tb">16</text><text transform="translate(253.50,266.7) scale(0.92,1)" text-anchor="middle" class="tb">32</text><text transform="translate(279.90,266.7) scale(0.92,1)" text-anchor="middle" class="tb">64</text><text transform="translate(306.30,266.7) scale(0.92,1)" text-anchor="middle" class="tb">128</text><text transform="translate(332.70,266.7) scale(0.92,1)" text-anchor="middle" class="tb">256</text>
<text class="tt" transform="translate(13.4,183.6) rotate(-90)">Frequency(%/μm)</text>
<text class="tt" transform="translate(383.0,172.2) rotate(-90)">Undersize(%)</text>
<text class="tx" y="284.9"><tspan x="144.5">Diameter</tspan><tspan x="198.5" y="284.1" class="pp">(</tspan><tspan x="205.0" y="284.9" style="font-size:12px">μm</tspan><tspan x="223.4" y="284.1" class="pp">)</tspan></text>
<g>
<line x1="251.5" y1="5.8" x2="268.3" y2="5.8" stroke="#222" stroke-width="1.3"/>
<path d="M257.4,6.5 L259.9,2.5 L262.4,6.5" fill="#fff" stroke="#333" stroke-width="0.8"/>
<text class="lg" transform="translate(272.6,8.6) scale(0.855,1)">Frequency(%/μm)</text>
<line x1="251.5" y1="15.5" x2="268.3" y2="15.5" stroke="#0000ff" stroke-width="1.1"/>
<rect x="257.80" y="13.10" width="4.4" height="4.4" fill="#0000ff"/>
<text class="lg" transform="translate(268.2,18.5) scale(0.855,1)">Undersize(%)</text>
</g>
</svg>
</body></html>
